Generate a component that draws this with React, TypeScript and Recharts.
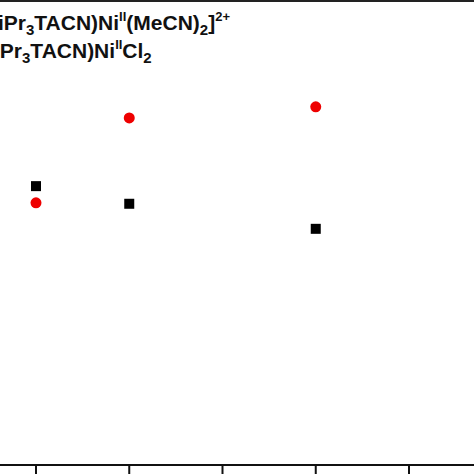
import React from 'react';
import { ScatterChart, Scatter, XAxis, YAxis, Legend } from 'recharts';

const xTicks = [1, 2, 3, 4, 5];
const chlorideX = [1, 2, 4];
const chlorideY = [6.01, 5.63, 5.09];
const acetonitrileX = [1, 2, 4];
const acetonitrileY = [5.65, 7.48, 7.72];

const chlorideData = chlorideX.map((x, i) => ({ x, y: chlorideY[i] }));
const acetonitrileData = acetonitrileX.map((x, i) => ({ x, y: acetonitrileY[i] }));

const SquareShape = (p: any) => (
  <rect x={p.cx - 5} y={p.cy - 5} width={10} height={10} fill="#000" />
);
const CircleShape = (p: any) => <circle cx={p.cx} cy={p.cy} r={5.5} fill="#ee0000" />;
const NoTick = () => <g />;

const font = "'Liberation Sans', Arial, sans-serif";
const subS: React.CSSProperties = { fontSize: 15, position: 'relative', top: 5, verticalAlign: 'baseline', lineHeight: 0 };
const supS: React.CSSProperties = { fontSize: 13, position: 'relative', top: -9, verticalAlign: 'baseline', lineHeight: 0 };

const LegendContent = () => (
  <div style={{ fontFamily: font, fontWeight: 'bold', fontSize: 21, color: '#111', lineHeight: '28px', whiteSpace: 'nowrap' }}>
    <div style={{ display: 'flex', alignItems: 'center', height: 28 }}>
      <span style={{ display: 'inline-block', width: 11, height: 11, background: '#ee0000', borderRadius: 6, marginRight: 14 }} />
      <span>
        [(iPr<span style={subS}>3</span>TACN)Ni<span style={supS}>II</span>(MeCN)<span style={subS}>2</span>]<span style={supS}>2+</span>
      </span>
    </div>
    <div style={{ display: 'flex', alignItems: 'center', height: 28 }}>
      <span style={{ display: 'inline-block', width: 10, height: 10, background: '#000', marginRight: 14 }} />
      <span style={{ marginLeft: 4 }}>
        (iPr<span style={subS}>3</span>TACN)Ni<span style={supS}>II</span>Cl<span style={subS}>2</span>
      </span>
    </div>
  </div>
);

export default function App() {
  return (
    <div style={{ position: 'absolute', left: 0, top: 0, width: 474, height: 474, overflow: 'hidden', background: '#fff' }}>
      <ScatterChart width={474} height={474} margin={{ top: 0, right: 0, bottom: 0, left: 0 }}>
        <XAxis
          xAxisId="b"
          type="number"
          dataKey="x"
          domain={[0.614, 5.697]}
          ticks={xTicks}
          allowDataOverflow
          height={9}
          tickSize={10}
          tick={NoTick}
          axisLine={{ stroke: '#111', strokeWidth: 2 }}
          tickLine={{ stroke: '#111', strokeWidth: 2 }}
        />
        <XAxis
          xAxisId="t"
          orientation="top"
          type="number"
          dataKey="x"
          domain={[0.614, 5.697]}
          allowDataOverflow
          height={1}
          tick={NoTick}
          tickLine={false}
          axisLine={{ stroke: '#222', strokeWidth: 2 }}
        />
        <YAxis type="number" dataKey="y" domain={[0, 10]} hide />
        <Legend
          layout="vertical"
          align="center"
          verticalAlign="middle"
          content={LegendContent}
          wrapperStyle={{ left: -41, top: 9, width: 'auto' }}
        />
        <Scatter xAxisId="b" data={acetonitrileData} shape={CircleShape} isAnimationActive={false} />
        <Scatter xAxisId="b" data={chlorideData} shape={SquareShape} isAnimationActive={false} />
      </ScatterChart>
    </div>
  );
}
